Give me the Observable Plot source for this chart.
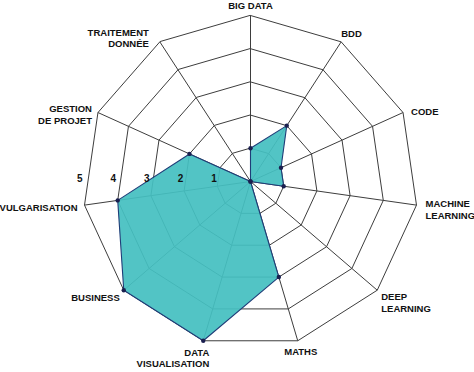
<!DOCTYPE html>
<html><head><meta charset="utf-8">
<script src="https://cdn.jsdelivr.net/npm/d3@7"></script>
<script src="https://cdn.jsdelivr.net/npm/@observablehq/plot@0.6"></script>
<style>body{margin:0;background:#fff} svg{display:block}</style>
</head><body><div id="chart"></div>
<script>
// ---- data ----
const axes = ["BIG DATA","BDD","CODE","MACHINE\nLEARNING","DEEP\nLEARNING","MATHS","DATA\nVISUALISATION","BUSINESS","VULGARISATION","GESTION\nDE PROJET","TRAITEMENT\nDONNÉE"];
const values = [1, 2, 1, 1, 0, 3, 5, 5, 4, 2, 0];
const levels = [1, 2, 3, 4, 5];
const levelLabels = ["1", "2", "3", "4", "5"];
const maxLevel = 5;

// ---- layout (label placement relative to outer vertex) ----
const labelLayout = [
  {anchor: "middle", dx: 0, dy: -10},
  {anchor: "start", dx: 0, dy: -9},
  {anchor: "start", dx: 8, dy: -1},
  {anchor: "start", dx: 9, dy: 4},
  {anchor: "start", dx: 4, dy: 12},
  {anchor: "middle", dx: 3, dy: 11},
  {anchor: "end", dx: 6, dy: 17},
  {anchor: "end", dx: -4, dy: 7},
  {anchor: "end", dx: -7, dy: 2},
  {anchor: "end", dx: -6, dy: 2},
  {anchor: "end", dx: -11, dy: -4}
];

const n = axes.length;
const ang = i => i * 2 * Math.PI / n;
const px = (i, v) => (v / maxLevel) * Math.sin(ang(i));
const py = (i, v) => (v / maxLevel) * Math.cos(ang(i));

const rings = levels.flatMap(l => axes.map((a, i) => ({level: l, x: px(i, l), y: py(i, l)})));
const spokes = axes.map((a, i) => ({x2: px(i, maxLevel), y2: py(i, maxLevel)}));
const pts = values.map((v, i) => ({axis: axes[i], v, x: px(i, v), y: py(i, v)}));
const outer = axes.map((a, i) => ({label: a, x: px(i, maxLevel), y: py(i, maxLevel)}));
const lvl = levels.map((l, k) => ({label: levelLabels[k], x: -l / maxLevel, y: 0}));

const font = "'Liberation Sans', Arial, sans-serif";
const textOpts = {fontSize: 9.5, fontWeight: "bold", fill: "#111", lineHeight: 1.22, fontFamily: font};

const chart = Plot.plot({
  width: 474,
  height: 372,
  margin: 0,
  style: {background: "#fff", fontFamily: font, overflow: "visible"},
  x: {domain: [-1, 1], range: [82.3, 417.7], axis: null},
  y: {domain: [-1, 1], range: [347, 15], axis: null},
  marks: [
    Plot.line(rings, {x: "x", y: "y", z: "level", curve: "linear-closed", stroke: "#3d3d3d", strokeWidth: 1}),
    Plot.link(spokes, {x1: 0, y1: 0, x2: "x2", y2: "y2", stroke: "#3d3d3d", strokeWidth: 1}),
    Plot.line(pts, {x: "x", y: "y", curve: "linear-closed", fill: "#45bfc1", fillOpacity: 0.93, stroke: "#1f3d78", strokeWidth: 1.1}),
    Plot.dot(pts, {x: "x", y: "y", r: 2.2, fill: "#1a1f4f", stroke: "none"}),
    ...outer.map((d, i) => Plot.text([d], {x: "x", y: "y", text: "label", textAnchor: labelLayout[i].anchor, dx: labelLayout[i].dx, dy: labelLayout[i].dy, ...textOpts})),
    Plot.text(lvl, {x: "x", y: "y", text: "label", dx: -3, dy: -3, ...textOpts, fontSize: 10})
  ]
});
document.getElementById("chart").append(chart);
</script>
</body></html>
